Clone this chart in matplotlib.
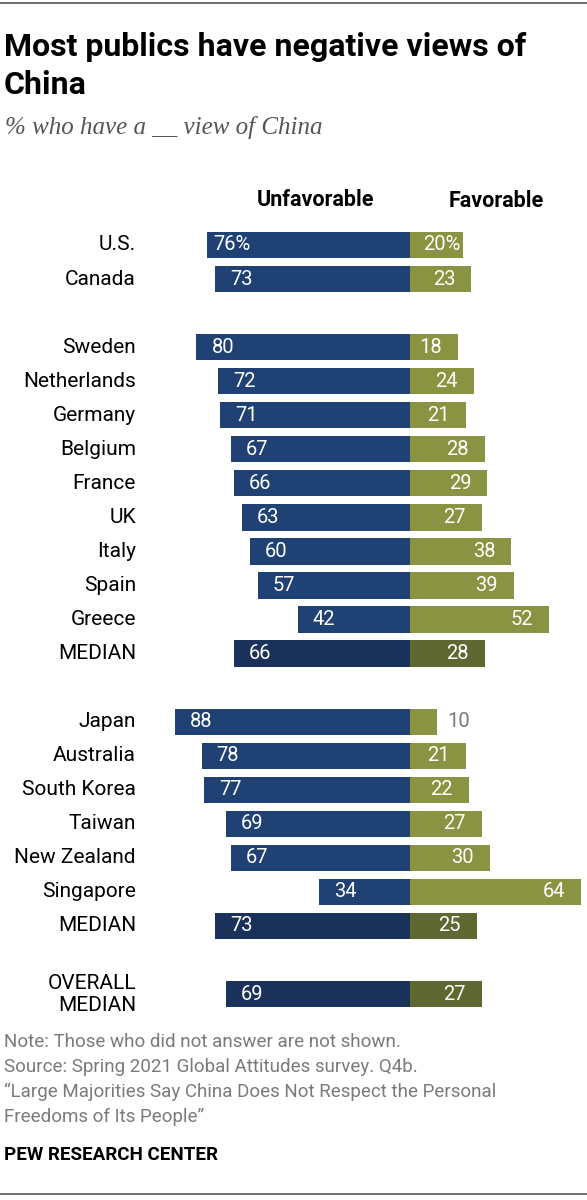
import matplotlib.pyplot as plt
import matplotlib.font_manager as fm

# Data
countries = ["U.S.", "Canada",
             "Sweden", "Netherlands", "Germany", "Belgium", "France", "UK",
             "Italy", "Spain", "Greece", "MEDIAN",
             "Japan", "Australia", "South Korea", "Taiwan", "New Zealand",
             "Singapore", "MEDIAN",
             "OVERALL\nMEDIAN"]
unfavorable = [76, 73, 80, 72, 71, 67, 66, 63, 60, 57, 42, 66,
               88, 78, 77, 69, 67, 34, 73, 69]
favorable = [20, 23, 18, 24, 21, 28, 29, 27, 38, 39, 52, 28,
             10, 21, 22, 27, 30, 64, 25, 27]
group_sizes = [2, 10, 7, 1]

W, H = 587, 1200
ZERO_PX = 410      # x pixel of the zero line
PX_PER_PCT = 2.67
ROW_PX = 34.05
FIRST_ROW_PX = 245

names = {f.name for f in fm.fontManager.ttflist}
narrow = "Liberation Sans Narrow" if "Liberation Sans Narrow" in names else "Roboto"
plt.rcParams['font.family'] = [narrow, 'DejaVu Sans']

BLUE = "#1f4173"
BLUE_MED = "#1a3159"
OLIVE = "#8a9341"
OLIVE_MED = "#5f6830"
GRAY = "#7a7a7a"

# row positions with a blank row between groups
rows = []
pos = 0
for g in group_sizes:
    for i in range(g):
        rows.append(pos)
        pos += 1
    pos += 1

fig = plt.figure(figsize=(W / 100, H / 100), dpi=100)
ax = fig.add_axes([0, 0, 1, 1])
ax.set_xlim(-ZERO_PX / PX_PER_PCT, (W - ZERO_PX) / PX_PER_PCT)
ax.set_ylim((H - FIRST_ROW_PX) / ROW_PX, -FIRST_ROW_PX / ROW_PX)
ax.axis("off")

px = 1 / PX_PER_PCT  # one pixel in data units
label_x = -(ZERO_PX - 136) / PX_PER_PCT

for i, (name, u, f, y) in enumerate(zip(countries, unfavorable, favorable, rows)):
    med = "MEDIAN" in name
    ax.barh(y, -u, height=0.77, color=BLUE_MED if med else BLUE)
    ax.barh(y, f, height=0.77, color=OLIVE_MED if med else OLIVE)
    ulab = f"{u}%" if i == 0 else str(u)
    flab = f"{f}%" if i == 0 else str(f)
    uoff = 6 if i == 0 else 15
    ax.text(-u + uoff * px, y, ulab, color="white", fontsize=14.5,
            ha="left", va="center")
    if f < 12:
        ax.text(f + 11 * px, y, flab, color=GRAY, fontsize=14.5,
                ha="left", va="center")
    else:
        foff = 3 if i == 0 else 16
        ax.text(f - foff * px, y, flab, color="white", fontsize=14.5,
                ha="right", va="center")
    ax.text(label_x, y, name, color="black", fontsize=15, ha="right",
            va="center", multialignment="right", linespacing=1.2)

def fx(x):
    return x / W

def fy(y):
    return 1 - y / H

# column headers
fig.text(fx(316), fy(200), "Unfavorable", fontsize=15.5, fontweight="bold",
         ha="center", va="center")
fig.text(fx(496), fy(201), "Favorable", fontsize=15.5, fontweight="bold",
         ha="center", va="center")

# title and subtitle
fig.text(fx(4), fy(56), "Most publics have negative views of",
         fontsize=23, fontweight="bold", ha="left", va="baseline")
fig.text(fx(4), fy(94), "China",
         fontsize=23, fontweight="bold", ha="left", va="baseline")
fig.text(fx(5), fy(134), "% who have a __ view of China", fontsize=18,
         family=["Liberation Serif", "DejaVu Serif"], style="italic",
         color="#555555", ha="left", va="baseline")

# notes
notes = ["Note: Those who did not answer are not shown.",
         "Source: Spring 2021 Global Attitudes survey. Q4b.",
         "\u201cLarge Majorities Say China Does Not Respect the Personal",
         "Freedoms of Its People\u201d"]
for k, line in enumerate(notes):
    fig.text(fx(4), fy(1042 + k * 25), line, fontsize=13.5, color=GRAY,
             ha="left", va="center")
fig.text(fx(4), fy(1155), "PEW RESEARCH CENTER", fontsize=13.5,
         fontweight="bold", ha="left", va="center")

# top and bottom rules
for yy in (3, 1194):
    fig.add_artist(plt.Line2D([0, 1], [fy(yy), fy(yy)], color="#555555",
                              linewidth=1.2))

fig.savefig("out.png", dpi=100, facecolor="white")
